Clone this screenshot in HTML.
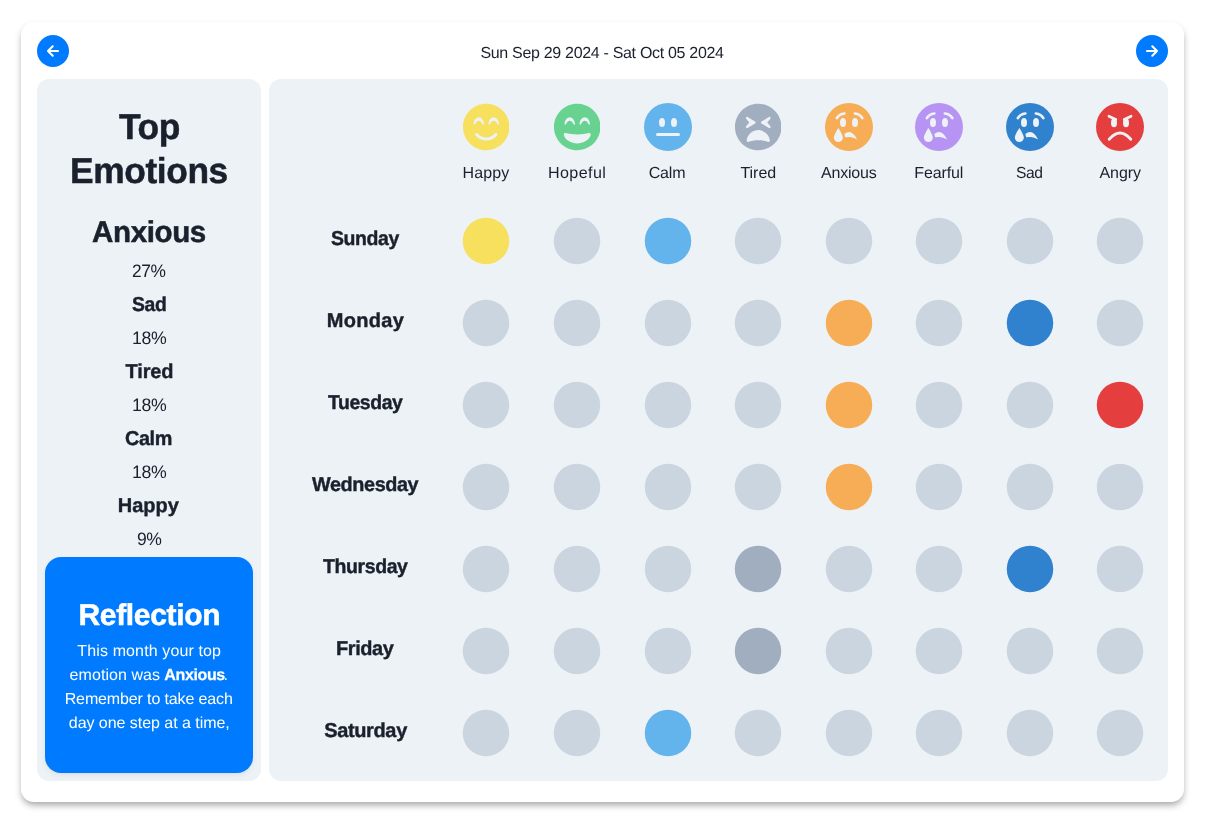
<!DOCTYPE html>
<html lang="en"><head><meta charset="utf-8"><title>Weekly Mood Summary</title>
<style>
*{box-sizing:border-box}
html,body{margin:0;padding:0;background:#fff}
body{width:1215px;height:830px;position:relative;overflow:hidden;font-family:"Liberation Sans",Arial,sans-serif;color:#1A202C;text-rendering:geometricPrecision}
.card{position:absolute;left:21px;top:22px;width:1163px;height:780px;background:#fff;border-radius:13px;box-shadow:0 4px 7px -1px rgba(0,0,0,.36)}
.panel{position:absolute;background:#EDF2F7;border-radius:12px}
.refl{position:absolute;left:45px;top:557px;width:208px;height:216px;background:#007BFF;border-radius:16px;box-shadow:0 3px 6px -1px rgba(0,0,0,.07),0 1px 3px -1px rgba(0,0,0,.05)}
.t{position:absolute;white-space:nowrap;display:block;transform-origin:0 0}
.ic{position:absolute;display:block}
.btn{position:absolute;width:32px;height:32px;border-radius:50%;background:#007BFF}
.btn svg{display:block}
</style></head><body>
<div class="card"></div>

<div class="btn" style="left:37.00px;top:34.90px"><svg width="32" height="32" viewBox="-16 -16 32 32"><path d="M5 0H-5M-0.3 -4.7L-5 0L-0.3 4.7" fill="none" stroke="#fff" stroke-width="2.1" stroke-linecap="round" stroke-linejoin="round"/></svg></div>
<div class="btn" style="left:1136.00px;top:34.90px"><svg width="32" height="32" viewBox="-16 -16 32 32"><path d="M-5 0H5M0.3 -4.7L5 0L0.3 4.7" fill="none" stroke="#fff" stroke-width="2.1" stroke-linecap="round" stroke-linejoin="round"/></svg></div>
<div class="panel" style="left:37px;top:79px;width:224px;height:702px"></div>
<div class="refl"></div>
<div class="panel" style="left:269px;top:79px;width:899px;height:702px"></div>
<svg class="ic" style="left:462.75px;top:103.00px" width="46.5" height="48" viewBox="0 0 496 512"><path fill="#F6E05E" d="M248 8C111 8 0 119 0 256s111 248 248 248 248-111 248-248S385 8 248 8zM112 223.400c3.300-42.100 32.200-71.400 56-71.400s52.700 29.300 56 71.400c.7 8.600-10.800 11.900-14.900 4.500l-9.500-17c-7.700-13.700-19.200-21.600-31.500-21.600s-23.800 7.900-31.500 21.600l-9.500 17c-4.300 7.400-15.800 4-15.100-4.500zm250.800 122.800C334.300 380.400 292.500 400 248 400s-86.300-19.600-114.800-53.800c-13.500-16.300 11-36.700 24.600-20.500 22.400 26.900 55.200 42.200 90.200 42.200s67.800-15.400 90.200-42.200c13.600-16.200 38.100 4.300 24.600 20.500zm6.200-118.300l-9.500-17c-7.700-13.700-19.200-21.600-31.500-21.600s-23.800 7.900-31.500 21.600l-9.500 17c-4.100 7.300-15.600 4-14.900-4.500 3.300-42.100 32.200-71.400 56-71.400s52.700 29.300 56 71.400c.6 8.600-11 11.900-15.100 4.500z"/></svg>
<svg class="ic" style="left:553.75px;top:103.00px" width="46.5" height="48" viewBox="0 0 496 512"><path fill="#68D391" d="M248 8C111 8 0 119 0 256s111 248 248 248 248-111 248-248S385 8 248 8zm80 144c23.800 0 52.700 29.300 56 71.400.7 8.600-10.800 11.900-14.900 4.500l-9.500-17c-7.700-13.700-19.200-21.600-31.500-21.600s-23.800 7.900-31.500 21.600l-9.500 17c-4.100 7.300-15.600 4-14.900-4.500 3.100-42.100 32-71.400 55.800-71.400zm-160 0c23.800 0 52.700 29.300 56 71.400.7 8.600-10.800 11.900-14.900 4.500l-9.500-17c-7.700-13.700-19.200-21.600-31.500-21.600s-23.800 7.900-31.500 21.600l-9.500 17c-4.200 7.400-15.800 4-15.100-4.500 3.300-42.100 32.200-71.400 56-71.400zm80 280c-60.600 0-134.500-38.300-143.800-93.300-2-11.800 9.300-21.600 20.700-17.900C155.100 330.500 200 336 248 336s92.900-5.500 123.100-15.200c11.500-3.700 22.600 6.200 20.700 17.900-9.300 55-83.200 93.300-143.800 93.300z"/></svg>
<svg class="ic" style="left:644.00px;top:103.00px" width="48" height="48" viewBox="0 0 16 16"><circle cx="8" cy="8" r="8" fill="#63B3ED"/><g fill="#EDF2F7" stroke="#EDF2F7" stroke-width="0"><ellipse cx="6" cy="6.5" rx="1" ry="1.5"/><ellipse cx="10" cy="6.5" rx="1" ry="1.5"/><rect x="4" y="10" width="8" height="1" rx="0.5"/></g></svg>
<svg class="ic" style="left:734.75px;top:103.00px" width="46.5" height="48" viewBox="0 0 496 512"><path fill="#A0AEC0" d="M248 8C111 8 0 119 0 256s111 248 248 248 248-111 248-248S385 8 248 8zm33.800 189.700l80-48c11.600-6.900 24 7.700 15.400 18L343.600 208l33.600 40.300c8.700 10.400-3.900 24.800-15.400 18l-80-48c-7.700-4.700-7.700-15.900 0-20.600zm-163-30c-8.600-10.300 3.800-24.900 15.400-18l80 48c7.800 4.700 7.800 15.900 0 20.600l-80 48c-11.500 6.800-24-7.600-15.400-18l33.600-40.300-33.600-40.300zM248 288c51.900 0 115.300 43.800 123.200 106.700 1.700 13.600-8 24.600-17.700 20.400-25.900-11.100-64.400-17.400-105.500-17.400s-79.600 6.300-105.500 17.400c-9.800 4.200-19.400-7-17.700-20.400C132.700 331.800 196.100 288 248 288z"/></svg>
<svg class="ic" style="left:825.00px;top:103.00px" width="48" height="48" viewBox="0 0 16 16"><circle cx="8" cy="8" r="8" fill="#F6AD55"/><g fill="#EDF2F7" stroke="#EDF2F7" stroke-width="0"><ellipse cx="6" cy="6.5" rx="1" ry="1.5"/><ellipse cx="10" cy="6.5" rx="1" ry="1.5"/><path d="M3.95 5.05Q4.7 3.7 6.45 3.5" fill="none" stroke-width="0.9" stroke-linecap="round"/><path d="M12.45 5.05Q11.7 3.7 9.95 3.5" fill="none" stroke-width="0.9" stroke-linecap="round"/><path d="M4.45 8.3C4.45 8.3 5.95 10.6 5.95 11.5A1.5 1.5 0 0 1 2.95 11.5C2.95 10.6 4.45 8.3 4.45 8.3Z"/><path d="M6.45 10.3Q7.2 9.68 8.05 9.66Q9.5 9.7 10.7 12.15Q9.4 11.3 8.3 11.3Q7.4 11.3 6.72 11.45Z"/></g></svg>
<svg class="ic" style="left:915.00px;top:103.00px" width="48" height="48" viewBox="0 0 16 16"><circle cx="8" cy="8" r="8" fill="#B794F4"/><g fill="#EDF2F7" stroke="#EDF2F7" stroke-width="0"><ellipse cx="6" cy="6.5" rx="1" ry="1.5"/><ellipse cx="10" cy="6.5" rx="1" ry="1.5"/><path d="M3.95 5.05Q4.7 3.7 6.45 3.5" fill="none" stroke-width="0.9" stroke-linecap="round"/><path d="M12.45 5.05Q11.7 3.7 9.95 3.5" fill="none" stroke-width="0.9" stroke-linecap="round"/><path d="M4.45 8.3C4.45 8.3 5.95 10.6 5.95 11.5A1.5 1.5 0 0 1 2.95 11.5C2.95 10.6 4.45 8.3 4.45 8.3Z"/><path d="M6.45 10.3Q7.2 9.68 8.05 9.66Q9.5 9.7 10.7 12.15Q9.4 11.3 8.3 11.3Q7.4 11.3 6.72 11.45Z"/></g></svg>
<svg class="ic" style="left:1006.00px;top:103.00px" width="48" height="48" viewBox="0 0 16 16"><circle cx="8" cy="8" r="8" fill="#3182CE"/><g fill="#EDF2F7" stroke="#EDF2F7" stroke-width="0"><ellipse cx="6" cy="6.5" rx="1" ry="1.5"/><ellipse cx="10" cy="6.5" rx="1" ry="1.5"/><path d="M3.95 5.05Q4.7 3.7 6.45 3.5" fill="none" stroke-width="0.9" stroke-linecap="round"/><path d="M12.45 5.05Q11.7 3.7 9.95 3.5" fill="none" stroke-width="0.9" stroke-linecap="round"/><path d="M4.45 8.3C4.45 8.3 5.95 10.6 5.95 11.5A1.5 1.5 0 0 1 2.95 11.5C2.95 10.6 4.45 8.3 4.45 8.3Z"/><path d="M6.45 10.3Q7.2 9.68 8.05 9.66Q9.5 9.7 10.7 12.15Q9.4 11.3 8.3 11.3Q7.4 11.3 6.72 11.45Z"/></g></svg>
<svg class="ic" style="left:1096.00px;top:103.00px" width="48" height="48" viewBox="0 0 16 16"><circle cx="8" cy="8" r="8" fill="#E53E3E"/><g fill="#EDF2F7" stroke="#EDF2F7" stroke-width="0"><ellipse cx="6" cy="6.6" rx="1" ry="1.5"/><ellipse cx="10" cy="6.6" rx="1" ry="1.5"/><path d="M4.3 4.4L6.6 5.5" fill="none" stroke-width="0.9" stroke-linecap="round"/><path d="M11.7 4.4L9.4 5.5" fill="none" stroke-width="0.9" stroke-linecap="round"/><path d="M4.4 12.1Q8 7.9 11.6 12.1" fill="none" stroke-width="0.95" stroke-linecap="round"/></g></svg>
<svg class="ic" style="left:0;top:0" width="1215" height="830" viewBox="0 0 1215 830"><g><circle cx="486" cy="241" r="23.25" fill="#F6E05E"/><circle cx="577" cy="241" r="23.25" fill="#CBD5E0"/><circle cx="668" cy="241" r="23.25" fill="#63B3ED"/><circle cx="758" cy="241" r="23.25" fill="#CBD5E0"/><circle cx="849" cy="241" r="23.25" fill="#CBD5E0"/><circle cx="939" cy="241" r="23.25" fill="#CBD5E0"/><circle cx="1030" cy="241" r="23.25" fill="#CBD5E0"/><circle cx="1120" cy="241" r="23.25" fill="#CBD5E0"/></g><g><circle cx="486" cy="323" r="23.25" fill="#CBD5E0"/><circle cx="577" cy="323" r="23.25" fill="#CBD5E0"/><circle cx="668" cy="323" r="23.25" fill="#CBD5E0"/><circle cx="758" cy="323" r="23.25" fill="#CBD5E0"/><circle cx="849" cy="323" r="23.25" fill="#F6AD55"/><circle cx="939" cy="323" r="23.25" fill="#CBD5E0"/><circle cx="1030" cy="323" r="23.25" fill="#3182CE"/><circle cx="1120" cy="323" r="23.25" fill="#CBD5E0"/></g><g><circle cx="486" cy="405" r="23.25" fill="#CBD5E0"/><circle cx="577" cy="405" r="23.25" fill="#CBD5E0"/><circle cx="668" cy="405" r="23.25" fill="#CBD5E0"/><circle cx="758" cy="405" r="23.25" fill="#CBD5E0"/><circle cx="849" cy="405" r="23.25" fill="#F6AD55"/><circle cx="939" cy="405" r="23.25" fill="#CBD5E0"/><circle cx="1030" cy="405" r="23.25" fill="#CBD5E0"/><circle cx="1120" cy="405" r="23.25" fill="#E53E3E"/></g><g><circle cx="486" cy="487" r="23.25" fill="#CBD5E0"/><circle cx="577" cy="487" r="23.25" fill="#CBD5E0"/><circle cx="668" cy="487" r="23.25" fill="#CBD5E0"/><circle cx="758" cy="487" r="23.25" fill="#CBD5E0"/><circle cx="849" cy="487" r="23.25" fill="#F6AD55"/><circle cx="939" cy="487" r="23.25" fill="#CBD5E0"/><circle cx="1030" cy="487" r="23.25" fill="#CBD5E0"/><circle cx="1120" cy="487" r="23.25" fill="#CBD5E0"/></g><g><circle cx="486" cy="569" r="23.25" fill="#CBD5E0"/><circle cx="577" cy="569" r="23.25" fill="#CBD5E0"/><circle cx="668" cy="569" r="23.25" fill="#CBD5E0"/><circle cx="758" cy="569" r="23.25" fill="#A0AEC0"/><circle cx="849" cy="569" r="23.25" fill="#CBD5E0"/><circle cx="939" cy="569" r="23.25" fill="#CBD5E0"/><circle cx="1030" cy="569" r="23.25" fill="#3182CE"/><circle cx="1120" cy="569" r="23.25" fill="#CBD5E0"/></g><g><circle cx="486" cy="651" r="23.25" fill="#CBD5E0"/><circle cx="577" cy="651" r="23.25" fill="#CBD5E0"/><circle cx="668" cy="651" r="23.25" fill="#CBD5E0"/><circle cx="758" cy="651" r="23.25" fill="#A0AEC0"/><circle cx="849" cy="651" r="23.25" fill="#CBD5E0"/><circle cx="939" cy="651" r="23.25" fill="#CBD5E0"/><circle cx="1030" cy="651" r="23.25" fill="#CBD5E0"/><circle cx="1120" cy="651" r="23.25" fill="#CBD5E0"/></g><g><circle cx="486" cy="733" r="23.25" fill="#CBD5E0"/><circle cx="577" cy="733" r="23.25" fill="#CBD5E0"/><circle cx="668" cy="733" r="23.25" fill="#63B3ED"/><circle cx="758" cy="733" r="23.25" fill="#CBD5E0"/><circle cx="849" cy="733" r="23.25" fill="#CBD5E0"/><circle cx="939" cy="733" r="23.25" fill="#CBD5E0"/><circle cx="1030" cy="733" r="23.25" fill="#CBD5E0"/><circle cx="1120" cy="733" r="23.25" fill="#CBD5E0"/></g></svg>
<span class="t" style="left:480.40px;top:42px;font-size:16px;line-height:24px;color:#1A202C;letter-spacing:-0.311px">Sun Sep 29 2024 - Sat Oct 05 2024</span>
<span class="t" style="left:118.75px;top:100px;font-size:36px;line-height:54px;font-weight:700;-webkit-text-stroke:0.5px #1A202C;color:#1A202C;letter-spacing:-0.400px;transform:scaleX(0.9836)">Top</span>
<span class="t" style="left:70.04px;top:144px;font-size:36px;line-height:54px;font-weight:700;-webkit-text-stroke:0.5px #1A202C;color:#1A202C;letter-spacing:-0.400px;transform:scaleX(0.9815)">Emotions</span>
<span class="t" style="left:91.90px;top:210px;font-size:30px;line-height:45px;font-weight:700;-webkit-text-stroke:0.5px #1A202C;color:#1A202C;letter-spacing:-0.400px;transform:scaleX(0.9856)">Anxious</span>
<span class="t" style="left:131.65px;top:258px;font-size:18px;line-height:27px;color:#1A202C;letter-spacing:-0.400px;transform:scaleX(0.9639)">27%</span>
<span class="t" style="left:132.15px;top:290px;font-size:20px;line-height:30px;font-weight:700;-webkit-text-stroke:0.4px #1A202C;color:#1A202C;letter-spacing:-0.400px;transform:scaleX(0.9679)">Sad</span>
<span class="t" style="left:131.57px;top:325px;font-size:18px;line-height:27px;color:#1A202C;letter-spacing:-0.400px;transform:scaleX(0.9833)">18%</span>
<span class="t" style="left:125.50px;top:357px;font-size:20px;line-height:30px;font-weight:700;-webkit-text-stroke:0.4px #1A202C;color:#1A202C;letter-spacing:-0.130px">Tired</span>
<span class="t" style="left:131.57px;top:392px;font-size:18px;line-height:27px;color:#1A202C;letter-spacing:-0.400px;transform:scaleX(0.9833)">18%</span>
<span class="t" style="left:125.10px;top:424px;font-size:20px;line-height:30px;font-weight:700;-webkit-text-stroke:0.4px #1A202C;color:#1A202C;letter-spacing:-0.400px;transform:scaleX(0.9920)">Calm</span>
<span class="t" style="left:131.57px;top:459px;font-size:18px;line-height:27px;color:#1A202C;letter-spacing:-0.400px;transform:scaleX(0.9833)">18%</span>
<span class="t" style="left:117.75px;top:491px;font-size:20px;line-height:30px;font-weight:700;-webkit-text-stroke:0.4px #1A202C;color:#1A202C;letter-spacing:-0.013px">Happy</span>
<span class="t" style="left:136.85px;top:526px;font-size:18px;line-height:27px;color:#1A202C;letter-spacing:-0.400px;transform:scaleX(0.9742)">9%</span>
<span class="t" style="left:78.45px;top:593px;font-size:30px;line-height:45px;font-weight:700;-webkit-text-stroke:0.5px #ffffff;color:#ffffff;letter-spacing:-0.322px">Reflection</span>
<span class="t" style="left:77.35px;top:640px;font-size:16px;line-height:24px;color:#ffffff;letter-spacing:0.125px">This month your top</span>
<span class="t" style="left:69.60px;top:664px;font-size:16px;line-height:24px;color:#ffffff;letter-spacing:0.058px">emotion was</span>
<span class="t" style="left:164.35px;top:664px;font-size:16px;line-height:24px;font-weight:700;-webkit-text-stroke:0.25px #ffffff;color:#ffffff;letter-spacing:-0.378px">Anxious</span>
<span class="t" style="left:223.60px;top:664px;font-size:16px;line-height:24px;color:#ffffff;letter-spacing:0.000px">.</span>
<span class="t" style="left:64.70px;top:688px;font-size:16px;line-height:24px;color:#ffffff;letter-spacing:-0.128px">Remember to take each</span>
<span class="t" style="left:68.80px;top:712px;font-size:16px;line-height:24px;color:#ffffff;letter-spacing:-0.042px">day one step at a time,</span>
<span class="t" style="left:462.55px;top:162px;font-size:16px;line-height:24px;color:#1A202C;letter-spacing:0.138px">Happy</span>
<span class="t" style="left:547.84px;top:162px;font-size:16px;line-height:24px;color:#1A202C;letter-spacing:0.400px;transform:scaleX(1.0055)">Hopeful</span>
<span class="t" style="left:648.65px;top:162px;font-size:16px;line-height:24px;color:#1A202C;letter-spacing:-0.169px">Calm</span>
<span class="t" style="left:740.40px;top:162px;font-size:16px;line-height:24px;color:#1A202C;letter-spacing:-0.003px">Tired</span>
<span class="t" style="left:821.00px;top:162px;font-size:16px;line-height:24px;color:#1A202C;letter-spacing:-0.204px">Anxious</span>
<span class="t" style="left:914.35px;top:162px;font-size:16px;line-height:24px;color:#1A202C;letter-spacing:-0.124px">Fearful</span>
<span class="t" style="left:1015.85px;top:162px;font-size:16px;line-height:24px;color:#1A202C;letter-spacing:-0.400px;transform:scaleX(0.9768)">Sad</span>
<span class="t" style="left:1099.50px;top:162px;font-size:16px;line-height:24px;color:#1A202C;letter-spacing:-0.074px">Angry</span>
<span class="t" style="left:330.95px;top:224px;font-size:20px;line-height:30px;font-weight:700;-webkit-text-stroke:0.4px #1A202C;color:#1A202C;letter-spacing:-0.400px;transform:scaleX(0.9724)">Sunday</span>
<span class="t" style="left:326.80px;top:306px;font-size:20px;line-height:30px;font-weight:700;-webkit-text-stroke:0.4px #1A202C;color:#1A202C;letter-spacing:0.303px">Monday</span>
<span class="t" style="left:328.00px;top:388px;font-size:20px;line-height:30px;font-weight:700;-webkit-text-stroke:0.4px #1A202C;color:#1A202C;letter-spacing:-0.400px;transform:scaleX(0.9695)">Tuesday</span>
<span class="t" style="left:312.25px;top:470px;font-size:20px;line-height:30px;font-weight:700;-webkit-text-stroke:0.4px #1A202C;color:#1A202C;letter-spacing:-0.400px;transform:scaleX(0.9912)">Wednesday</span>
<span class="t" style="left:323.00px;top:552px;font-size:20px;line-height:30px;font-weight:700;-webkit-text-stroke:0.4px #1A202C;color:#1A202C;letter-spacing:-0.400px;transform:scaleX(0.9734)">Thursday</span>
<span class="t" style="left:336.20px;top:634px;font-size:20px;line-height:30px;font-weight:700;-webkit-text-stroke:0.4px #1A202C;color:#1A202C;letter-spacing:-0.400px;transform:scaleX(0.9975)">Friday</span>
<span class="t" style="left:324.15px;top:716px;font-size:20px;line-height:30px;font-weight:700;-webkit-text-stroke:0.4px #1A202C;color:#1A202C;letter-spacing:-0.352px">Saturday</span>
</body></html>
